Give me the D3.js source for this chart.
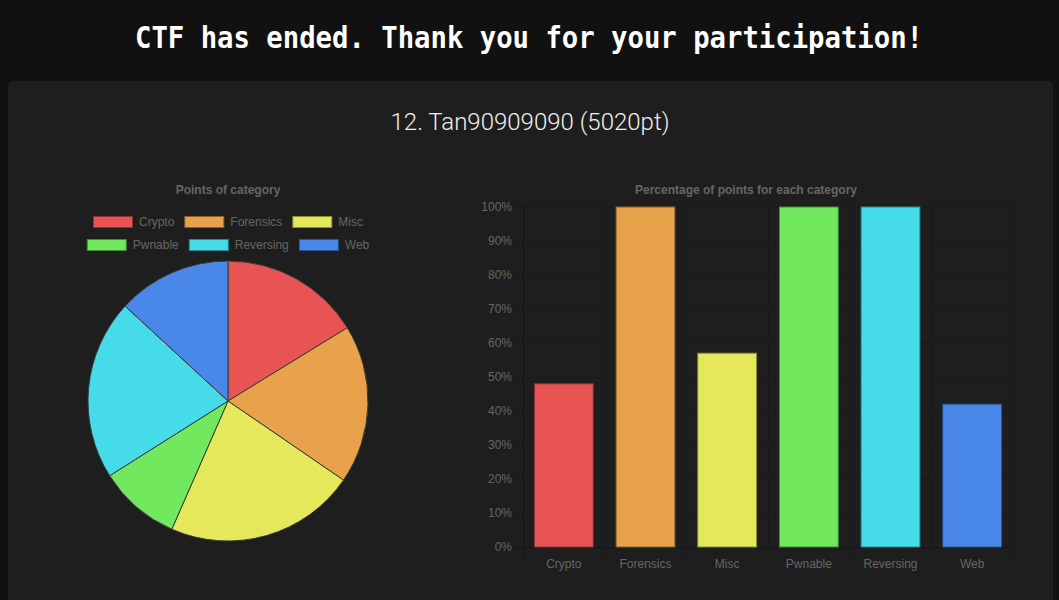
<!DOCTYPE html>
<html><head><meta charset="utf-8">
<script src="https://cdn.jsdelivr.net/npm/d3@7"></script>
<style>
html,body{margin:0;padding:0;background:#111111;}
svg{display:block;}
</style></head>
<body>
<svg id="chart" width="1059" height="600"></svg>
<script>
const categories = ["Crypto","Forensics","Misc","Pwnable","Reversing","Web"];
const points = [815, 920, 1105, 475, 1045, 660];
const percentages = [48, 100, 57, 100, 100, 42];
const colors = ["#e85454","#e8a24c","#e4e85a","#72e85e","#45dbe8","#4987e8"];
const borders = ["#8a3030","#8a5e2a","#8a8c32","#3f8a33","#268a93","#2a5393"];
const yTicks = [0,10,20,30,40,50,60,70,80,90,100];
const headline = "CTF has ended. Thank you for your participation!";
const subtitle = "12. Tan90909090 (5020pt)";
const pieTitle = "Points of category";
const barTitle = "Percentage of points for each category";

const svg = d3.select("#chart");
svg.append("rect").attr("width",1059).attr("height",600).attr("fill","#111111");
svg.append("text").attr("transform","translate(529,48) scale(0.88,1)").attr("text-anchor","middle")
  .attr("font-family","DejaVu Sans Mono").attr("font-weight","bold").attr("font-size",31)
  .attr("fill","#ffffff").text(headline);
svg.append("rect").attr("x",8).attr("y",81).attr("width",1045).attr("height",540).attr("rx",5)
  .attr("fill","#1e1e1e");
svg.append("text").attr("x",530).attr("y",130).attr("text-anchor","middle")
  .attr("font-family","Roboto").attr("font-weight",300).attr("font-size",24)
  .attr("fill","#f0f0f0").text(subtitle);

const labelFont = "Liberation Sans, Arial, sans-serif";
// Pie chart
svg.append("text").attr("x",228).attr("y",194).attr("text-anchor","middle")
  .attr("font-family",labelFont).attr("font-weight","bold").attr("font-size",12)
  .attr("fill","#666").text(pieTitle);

// Legend
const legendRows = [[0,1,2],[3,4,5]];
const legendY = [222,245];
legendRows.forEach((row,ri)=>{
  const g = svg.append("g");
  let items = row.map(i=>{
    const t = g.append("text").attr("font-family",labelFont).attr("font-size",12)
      .attr("fill","#666").attr("y",legendY[ri]+4).text(categories[i]);
    return {i, t, w: 40+6+t.node().getComputedTextLength()};
  });
  const total = d3.sum(items,d=>d.w) + 10*(items.length-1);
  let x = 228 - total/2;
  items.forEach(d=>{
    g.append("rect").attr("x",x+0.5).attr("y",legendY[ri]-6+0.5).attr("width",39).attr("height",11)
      .attr("fill",colors[d.i]).attr("stroke",borders[d.i]).attr("stroke-width",1);
    d.t.attr("x",x+46);
    x += d.w + 10;
  });
});

const pie = d3.pie().sort(null).value(d=>d)(points);
const arc = d3.arc().innerRadius(0).outerRadius(140);
svg.append("g").attr("transform","translate(228,401)")
  .selectAll("path").data(pie).join("path")
  .attr("d",arc).attr("fill",(d,i)=>colors[i])
  .attr("stroke","#3a3a3a").attr("stroke-width",1);

// Bar chart
svg.append("text").attr("x",746).attr("y",194).attr("text-anchor","middle")
  .attr("font-family",labelFont).attr("font-weight","bold").attr("font-size",12)
  .attr("fill","#666").text(barTitle);

const x = d3.scaleBand().domain(categories).range([523,1013]).paddingInner(0).paddingOuter(0);
const y = d3.scaleLinear().domain([0,100]).range([547,207]);
const grid = svg.append("g");
yTicks.forEach(t=>{
  grid.append("line").attr("x1",513).attr("x2",1013).attr("y1",Math.round(y(t))+0.5).attr("y2",Math.round(y(t))+0.5)
    .attr("stroke", t===0 ? "#151515" : "#191919").attr("stroke-width",1);
  grid.append("text").attr("x",512).attr("y",y(t)+4).attr("text-anchor","end")
    .attr("font-family",labelFont).attr("font-size",12).attr("fill","#666").text(t+"%");
});
const bounds = categories.map(c=>x(c)).concat([x.range()[1]]);
bounds.forEach((bx,i)=>{
  grid.append("line").attr("x1",Math.round(bx)+0.5).attr("x2",Math.round(bx)+0.5).attr("y1",207).attr("y2",557)
    .attr("stroke", i===0 ? "#111" : "#191919").attr("stroke-width",1);
});
const bw = x.bandwidth()*0.72;
svg.append("g").selectAll("rect").data(categories).join("rect")
  .attr("x",d=>x(d)+(x.bandwidth()-bw)/2).attr("width",bw)
  .attr("y",(d,i)=>y(percentages[i])).attr("height",(d,i)=>y(0)-y(percentages[i]))
  .attr("fill",(d,i)=>colors[i]).attr("stroke",(d,i)=>borders[i]).attr("stroke-width",1);
svg.append("g").selectAll("text").data(categories).join("text")
  .attr("x",d=>x(d)+x.bandwidth()/2).attr("y",568).attr("text-anchor","middle")
  .attr("font-family",labelFont).attr("font-size",12).attr("fill","#666").text(d=>d);
</script>
</body></html>
